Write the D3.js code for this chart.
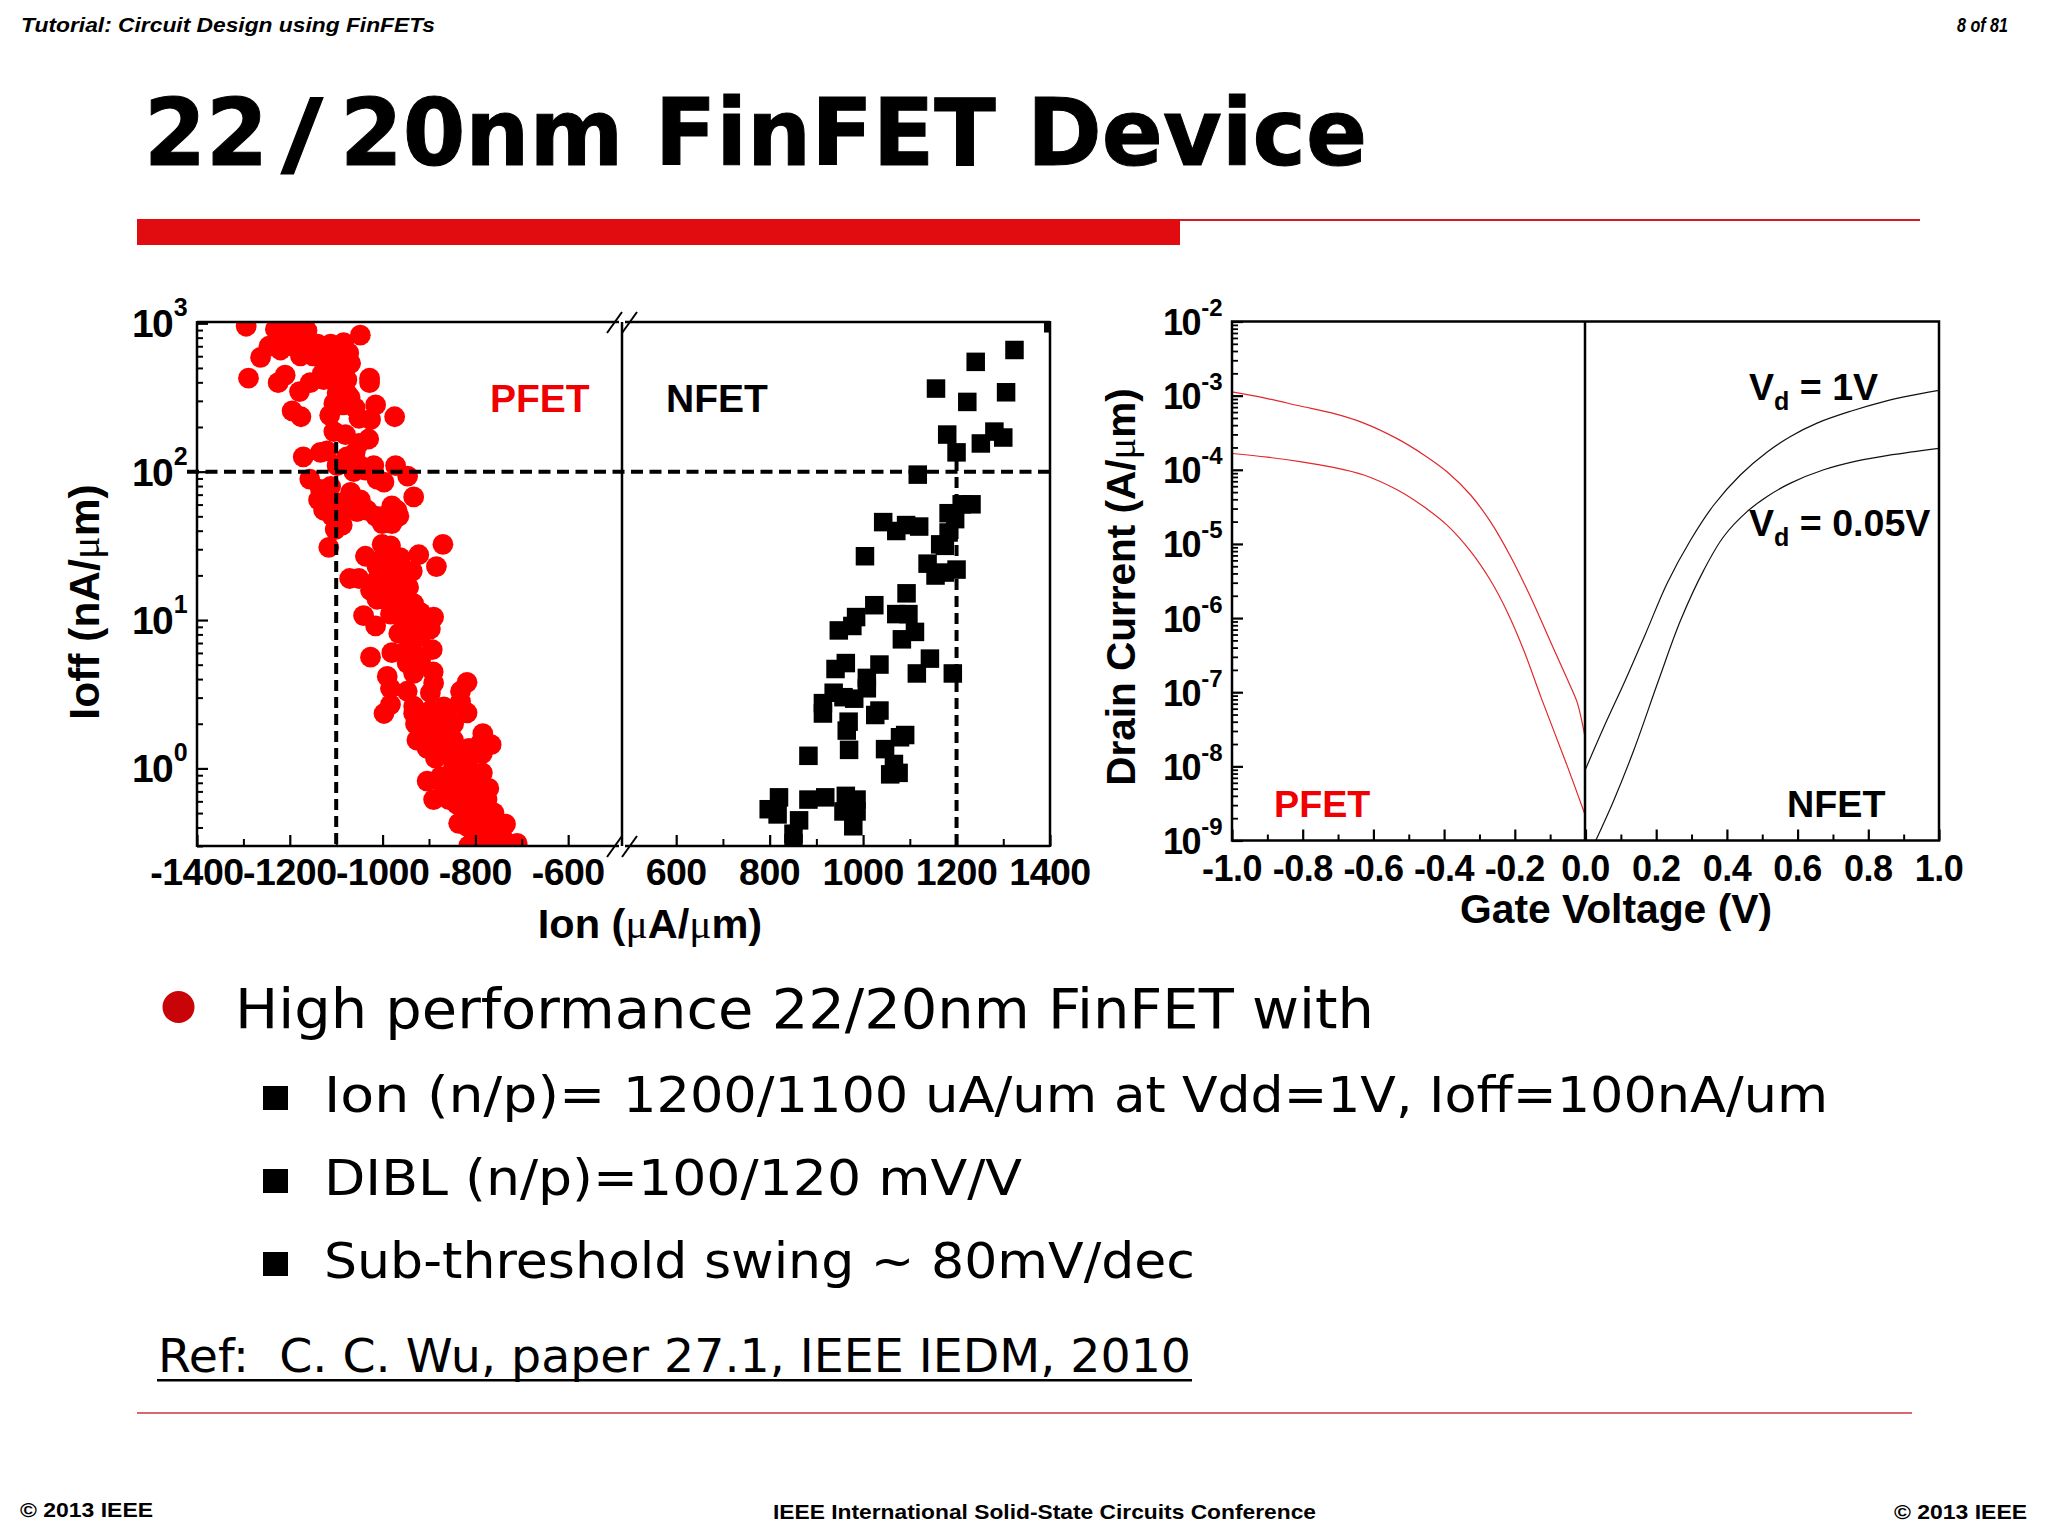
<!DOCTYPE html>
<html><head><meta charset="utf-8">
<style>html,body{margin:0;padding:0;background:#fff}svg{display:block}text{font-family:"Liberation Sans",Arial,sans-serif}</style>
<script src="https://cdn.jsdelivr.net/npm/d3@7/dist/d3.min.js"></script>
</head><body><svg id="s" width="2048" height="1536" xmlns="http://www.w3.org/2000/svg"></svg>
<script>
// ---------- data ----------
const pfetIon = [-1294,-1231,-1206,-1163,-1184,-1048,-1245,-1263,-1220,-1192,-1163,-1177,-1134,-1112,-1084,-1073,-1069,-1105,-1120,-1289,-1225,-1210,-1179,-1156,-1127,-1095,-1077,-1028,-1028,-1098,-1077,-1105,-1059,-1015,-1195,-1176,-1114,-1051,-1026,-974,-1105,-1080,-1030,-1051,-1059,-1171,-1134,-1120,-1098,-1019,-972,-1048,-1012,-997,-946,-1157,-1134,-1112,-933,-1138,-1116,-1069,-1048,-1055,-1091,-1109,-1087,-1102,-1015,-980,-965,-997,-980,-1116,-870,-884,-1001,-1037,-983,-962,-922,-1001,-990,-936,-1071,-1051,-1012,-976,-944,-1026,-990,-1012,-962,-947,-1041,-983,-933,-890,-1015,-965,-918,-897,-940,-893,-1026,-980,-933,-947,-891,-990,-933,-890,-983,-947,-818,-832,-897,-832,-997,-983,-818,-926,-897,-868,-929,-861,-784,-926,-897,-868,-766,-814,-785,-904,-854,-886,-785,-904,-875,-847,-811,-771,-890,-857,-825,-793,-775,-818,-771,-836,-803,-735,-767,-803,-767,-746,-710,-814,-782,-753,-847,-818,-803,-796,
  -1200,-1170,-1140,-1215,-1150,-1120,-1095,-1090,-1130,-1100,-1085,-1070,-1085,-1090,-1062,-1077,-1037,-1127,-1091,-1069,-1033,-1001,-969,-990,-976,-1012,-962,-990,-962,-997,-976,-933,-918,-954,-940,-918,-933,-954,-918,-933,-933,-904,-882,-861,-847,-875,-904,-882,-875,-847,-839,-811,-789,-818,-847,-847,-868,-818,-796,-782,-803,-840,-796,-818,-782,-760,-789,-739];
const pfetLogIoff = [2.98,2.96,2.95,2.95,2.96,2.92,2.845,2.77,2.82,2.845,2.845,2.78,2.80,2.86,2.87,2.80,2.73,2.755,2.71,2.63,2.60,2.65,2.54,2.60,2.62,2.64,2.62,2.63,2.60,2.53,2.53,2.46,2.43,2.45,2.41,2.37,2.38,2.36,2.35,2.37,2.27,2.25,2.22,2.19,2.13,2.10,2.13,2.14,2.04,2.04,2.04,2.04,1.95,1.93,1.97,1.95,1.88,1.90,1.83,1.81,1.83,1.86,1.81,1.73,1.79,1.70,1.64,1.61,1.70,1.77,1.70,1.70,1.65,1.49,1.51,1.36,1.51,1.43,1.50,1.42,1.44,1.41,1.34,1.33,1.28,1.28,1.27,1.27,1.22,1.20,1.20,1.14,1.16,1.08,1.03,1.04,1.04,1.02,0.96,0.91,0.96,0.94,0.87,0.80,0.75,0.78,0.78,0.71,0.65,0.62,0.64,0.575,0.54,0.52,0.58,0.52,0.51,0.45,0.37,0.43,0.375,0.37,0.39,0.415,0.30,0.33,0.235,0.19,0.19,0.21,0.16,0.135,0.10,0.135,0.146,0.07,-0.03,-0.085,-0.056,-0.08,-0.08,-0.135,-0.21,-0.21,-0.19,-0.17,-0.21,-0.26,-0.28,-0.37,-0.35,-0.375,-0.37,-0.44,-0.44,-0.415,-0.505,-0.52,-0.52,-0.49,0.056,0.01,-0.125,-0.28,
  2.9,2.9,2.86,2.88,2.78,2.8,2.82,2.72,2.66,2.6,2.55,2.5,2.45,2.5,2.0,2.1,2.01,1.74,1.70,1.77,1.74,1.65,1.74,1.45,1.41,1.36,1.32,1.27,1.23,1.14,1.11,1.11,1.05,0.98,0.94,0.89,0.71,0.78,0.73,0.42,0.37,0.37,0.35,0.39,0.30,0.26,0.26,0.15,0.10,0.19,0.10,0.08,0.17,-0.01,0.01,-0.15,-0.12,-0.12,-0.08,-0.19,-0.21,-0.24,-0.30,-0.39,-0.39,-0.30,-0.48,-0.48];
const nfetIon = [1407,1324,1241,1156,1306,1223,1180,1200,1252,1281,1300,1117,1232,1211,1183,1197,1043,1071,1092,1120,1183,1165,1175,1004,1138,1155,1175,1200,1093,1024,985,1071,1097,1111,1083,977,948,1143,1115,1192,963,941,1035,1008,1008,937,914,914,981,958,1035,1026,969,965,970,883,1090,1079,1047,1066,1076,1058,820,798,817,883,919,963,986,958,986,979,863,851,851];
const nfetLogIoff = [3.0,2.82,2.74,2.56,2.535,2.47,2.25,2.13,2.19,2.27,2.23,1.98,1.78,1.78,1.72,1.68,1.66,1.60,1.64,1.63,1.59,1.51,1.50,1.43,1.38,1.30,1.32,1.34,1.18,1.10,1.02,1.04,1.04,0.92,0.87,0.96,0.93,0.74,0.64,0.64,0.71,0.67,0.70,0.61,0.54,0.51,0.44,0.37,0.47,0.48,0.39,0.36,0.315,0.255,0.125,0.085,0.225,0.21,0.13,0.03,-0.03,-0.04,-0.195,-0.275,-0.31,-0.21,-0.195,-0.185,-0.21,-0.29,-0.29,-0.39,-0.35,-0.44,-0.505];

const pHighVg  = [-1.0,-0.90,-0.807,-0.721,-0.627,-0.533,-0.457,-0.391,-0.325,-0.269,-0.212,-0.156,-0.099,-0.052,-0.024,-0.009,0];
const pHighLog = [-2.95,-3.04,-3.14,-3.23,-3.37,-3.58,-3.80,-4.03,-4.34,-4.70,-5.17,-5.71,-6.32,-6.82,-7.13,-7.42,-7.64];
const pLowVg   = [-1.0,-0.90,-0.807,-0.721,-0.627,-0.533,-0.457,-0.391,-0.325,-0.269,-0.222,-0.175,-0.125,-0.052,0];
const pLowLog  = [-3.78,-3.83,-3.89,-3.96,-4.07,-4.27,-4.50,-4.75,-5.10,-5.49,-5.91,-6.43,-7.08,-7.99,-8.67];
const nHighVg  = [0,0.051,0.113,0.170,0.231,0.297,0.363,0.438,0.514,0.58,0.655,0.75,0.844,0.919,1.0];
const nHighLog = [-8.04,-7.48,-6.835,-6.21,-5.53,-4.95,-4.475,-4.07,-3.76,-3.55,-3.37,-3.21,-3.08,-3.00,-2.93];
const nLowVg   = [0.029,0.079,0.136,0.207,0.269,0.335,0.391,0.457,0.514,0.58,0.674,0.769,0.863,1.0];
const nLowLog  = [-9.0,-8.47,-7.79,-6.835,-6.03,-5.35,-4.90,-4.565,-4.36,-4.18,-4.00,-3.88,-3.80,-3.71];

const leftYTicks = [1,10,100,1000];
const leftYExp = ["0","1","2","3"];
const pXTicks = [-1400,-1200,-1000,-800,-600];
const pXMinor = [-1300,-1100,-900,-700];
const nXTicks = [600,800,1000,1200,1400];
const nXMinor = [700,900,1100,1300];
const rightYExp = [-2,-3,-4,-5,-6,-7,-8,-9];
const vgTicks = [-1,-0.8,-0.6,-0.4,-0.2,0,0.2,0.4,0.6,0.8,1];
const vgMinor = [-0.9,-0.7,-0.5,-0.3,-0.1,0.1,0.3,0.5,0.7,0.9];
const ionSpecP = -1100, ionSpecN = 1200, ioffSpec = 100;
const ionLine = ["Ion (n/p)= ","1200/1100 ","uA/um ","at ","Vdd=1V, ","Ioff=100nA/um"];
const ionLineX = [324,623,925,1114,1182,1429];
const ionLineW = [299,302,189,68,247,399];
const titleParts = ["22","/","20nm FinFET Device"];
const titleX = [144,281,340];
const titleW = [124,42,1027];

// ---------- layout ----------
const svg = d3.select("#s");
const L = {left:197, brk:622, right:1050, top:322, bottom:846};
const R = {left:1232, zero:1585, right:1939, top:321.5, bottom:840.5};
const xP = d3.scaleLinear().domain([-1400,-484]).range([L.left,L.brk]);
const xN = d3.scaleLinear().domain([484,1400]).range([L.brk,L.right]);
const yL = d3.scaleLog().domain([0.3,1020]).range([L.bottom,L.top]);
const xV = d3.scaleLinear().domain([-1,1]).range([R.left,R.right]);
const yR = d3.scaleLog().domain([1e-9,1e-2]).range([R.bottom,R.top]);

function txt(x,y,s,fs,o={}){
  const t = svg.append("text").attr("x",x).attr("y",y).attr("font-size",fs)
    .attr("font-weight",o.w||"bold").attr("fill",o.c||"#000").text(s);
  if(o.anchor) t.attr("text-anchor",o.anchor);
  if(o.fam) t.style("font-family",o.fam);
  if(o.st) t.attr("font-style",o.st);
  if(o.len) t.attr("textLength",o.len).attr("lengthAdjust","spacingAndGlyphs");
  if(o.ls!==undefined) t.attr("letter-spacing",o.ls);
  if(o.pre) t.attr("xml:space","preserve").style("white-space","pre");
  return t;
}
function segText(parts,xs,ws,y,fs,weight){
  const t = svg.append("text").attr("y",y).attr("font-size",fs).attr("font-weight",weight).style("font-family",BODY).style("white-space","pre");
  parts.forEach((p,i)=>t.append("tspan").attr("x",xs[i]).attr("textLength",ws[i]).attr("lengthAdjust","spacingAndGlyphs").text(p));
  return t;
}
const BODY = '"DejaVu Sans",sans-serif';

// ---------- slide furniture ----------
txt(21,32,"Tutorial: Circuit Design using FinFETs",21,{st:"italic",len:414});
txt(1957,32,"8 of 81",21,{st:"italic",len:51});
segText(titleParts,titleX,titleW,165,92,"bold").attr("stroke","#000").attr("stroke-width",1);
svg.append("rect").attr("x",137).attr("y",219).attr("width",1043).attr("height",26).attr("fill","#e10c0f");
svg.append("rect").attr("x",1180).attr("y",219).attr("width",740).attr("height",2).attr("fill","#d81a1e");

// bullets
svg.append("circle").attr("cx",178.5).attr("cy",1007).attr("r",16).attr("fill","#c90408");
txt(235,1028,"High performance 22/20nm FinFET with",56,{fam:BODY,w:"normal",len:1139});
const bulletBase=[1112,1195,1278];
bulletBase.forEach(b=>svg.append("rect").attr("x",263).attr("y",b-26).attr("width",25).attr("height",24).attr("fill","#000"));
segText(ionLine,ionLineX,ionLineW,bulletBase[0],50,"normal");
txt(324,bulletBase[1],"DIBL (n/p)=100/120 mV/V",50,{fam:BODY,w:"normal",len:698});
txt(324,bulletBase[2],"Sub-threshold swing ~ 80mV/dec",50,{fam:BODY,w:"normal",len:871});
txt(158,1372,"Ref:  C. C. Wu, paper 27.1, IEEE IEDM, 2010",46,{fam:BODY,w:"normal",len:1033,pre:true});
svg.append("rect").attr("x",157).attr("y",1379).attr("width",1035).attr("height",2.5).attr("fill","#000");
svg.append("rect").attr("x",137).attr("y",1412).attr("width",1775).attr("height",2).attr("fill","#d9686e");
txt(20,1517,"© 2013 IEEE",21,{len:133});
txt(773,1519,"IEEE International Solid-State Circuits Conference",21,{len:543});
txt(1894,1519,"© 2013 IEEE",21,{len:133});

// ---------- clip regions ----------
const defs = svg.append("defs");
defs.append("clipPath").attr("id","clipL").append("rect").attr("x",L.left).attr("y",L.top).attr("width",L.right-L.left).attr("height",L.bottom-L.top);
defs.append("clipPath").attr("id","clipR").append("rect").attr("x",R.left).attr("y",R.top).attr("width",R.right-R.left).attr("height",R.bottom-R.top);

// ---------- left panel marks ----------
const gL = svg.append("g").attr("clip-path","url(#clipL)");
gL.selectAll("circle").data(pfetIon).join("circle")
  .attr("cx",d=>xP(d)).attr("cy",(d,i)=>yL(Math.pow(10,pfetLogIoff[i]))).attr("r",10.4).attr("fill","#ff0000");
const sq=18.5;
gL.selectAll("rect").data(nfetIon).join("rect")
  .attr("x",d=>xN(d)-sq/2).attr("y",(d,i)=>yL(Math.pow(10,nfetLogIoff[i]))-sq/2).attr("width",sq).attr("height",sq).attr("fill","#000");

// spec dashed guides
svg.append("line").attr("x1",187).attr("x2",L.right).attr("y1",yL(ioffSpec)).attr("y2",yL(ioffSpec))
  .attr("stroke","#000").attr("stroke-width",4).attr("stroke-dasharray","12 6.5");
svg.append("line").attr("x1",xP(ionSpecP)).attr("x2",xP(ionSpecP)).attr("y1",442).attr("y2",L.bottom)
  .attr("stroke","#000").attr("stroke-width",4).attr("stroke-dasharray","11 6");
svg.append("line").attr("x1",xN(ionSpecN)).attr("x2",xN(ionSpecN)).attr("y1",460).attr("y2",L.bottom)
  .attr("stroke","#000").attr("stroke-width",4).attr("stroke-dasharray","11 6");

// ---------- axes ----------
function ax(axis,tx,ty,size,sw){
  const g = svg.append("g").attr("transform",`translate(${tx},${ty})`)
    .call(axis.tickSizeOuter(0).tickSizeInner(size).tickPadding(0).tickFormat(""));
  g.select(".domain").remove();
  g.selectAll("line").attr("stroke","#000").attr("stroke-width",sw);
  g.selectAll("text").remove();
  return g;
}
const minorsOf = (lo,hi)=>{const r=[];for(let e=lo;e<=hi;e++)for(let m=2;m<=9;m++)r.push(m*Math.pow(10,e));return r;};

// left panel ticks
ax(d3.axisLeft(yL).tickValues(leftYTicks),L.left,0,-11,2.2);
ax(d3.axisLeft(yL).tickValues(minorsOf(-1,2).filter(v=>v>=0.3&&v<=1000)),L.left,0,-6,2);
ax(d3.axisBottom(xP).tickValues(pXTicks),0,L.bottom,-11,2.2);
ax(d3.axisBottom(xP).tickValues(pXMinor),0,L.bottom,-7,2);
ax(d3.axisBottom(xN).tickValues(nXTicks),0,L.bottom,-11,2.2);
ax(d3.axisBottom(xN).tickValues(nXMinor),0,L.bottom,-7,2);

// frames
const frame = (x1,y1,x2,y2,sw)=>svg.append("line").attr("x1",x1).attr("y1",y1).attr("x2",x2).attr("y2",y2).attr("stroke","#000").attr("stroke-width",sw);
frame(L.left,L.top,L.brk-3,L.top,2.5);
frame(L.brk+3,L.top,L.right,L.top,2.5);
frame(L.left,L.bottom,L.brk-3,L.bottom,2.5);
frame(L.brk+3,L.bottom,L.right,L.bottom,2.5);
frame(L.left,L.top-1,L.left,L.bottom+1,2.5);
frame(L.right,L.top-1,L.right,L.bottom+1,2.5);
frame(L.brk,L.top,L.brk,L.bottom,2.5);
[[L.top+11,L.top-10],[L.bottom+11,L.bottom-10]].forEach(([a,b])=>{
  frame(L.brk-15,a,L.brk,b,2); frame(L.brk,a,L.brk+15,b,2);
});

// left tick labels
function powerLabel(x,y,exp,fs,supFs,rise){
  const t = svg.append("text").attr("x",x).attr("y",y).attr("font-size",fs).attr("font-weight","bold");
  t.append("tspan").attr("letter-spacing",-1.6).text("10");
  t.append("tspan").attr("font-size",supFs).attr("dy",-rise).attr("dx",1.5).text(exp);
}
leftYTicks.forEach((v,i)=>powerLabel(132,yL(v)+14,leftYExp[i],39,25,21));
const lab=(x,y,s,fs)=>txt(x,y,s,fs,{anchor:"middle",ls:-0.5});
pXTicks.forEach(v=>lab(xP(v),885,String(v),37.5));
nXTicks.forEach(v=>lab(xN(v),885,String(v),37.5));
txt(490,412,"PFET",39,{c:"#f00000"});
txt(666,412,"NFET",39);

// unit-labels with serif mu
function unitLabel(t,parts){ parts.forEach(p=>{const s=t.append("tspan").text(p); if(p==="μ") s.style("font-family",'"Liberation Serif",serif').attr("font-weight","normal");}); }
const ionT = svg.append("text").attr("x",650).attr("y",938).attr("text-anchor","middle").attr("font-size",41.5).attr("font-weight","bold");
unitLabel(ionT,["Ion (","μ","A/","μ","m)"]);
const ioffT = svg.append("text").attr("transform","translate(99,602) rotate(-90)").attr("text-anchor","middle").attr("font-size",42.5).attr("font-weight","bold");
unitLabel(ioffT,["Ioff (nA/","μ","m)"]);

// ---------- right panel ----------
const line = d3.line().x(d=>xV(d[0])).y(d=>yR(Math.pow(10,d[1]))).curve(d3.curveCatmullRom);
const gR = svg.append("g").attr("clip-path","url(#clipR)");
[[pHighVg,pHighLog,"#e0282c"],[pLowVg,pLowLog,"#e0282c"],[nHighVg,nHighLog,"#111"],[nLowVg,nLowLog,"#111"]].forEach(([a,b,c])=>{
  gR.append("path").attr("d",line(a.map((v,i)=>[v,b[i]]))).attr("fill","none").attr("stroke",c).attr("stroke-width",1.2);
});
const decades = rightYExp.map(e=>Math.pow(10,e));
ax(d3.axisLeft(yR).tickValues(decades),R.left,0,-11,2.2);
ax(d3.axisLeft(yR).tickValues(minorsOf(-9,-3)),R.left,0,-6,1.8);
ax(d3.axisBottom(xV).tickValues(vgTicks),0,R.bottom,-11,2.2);
ax(d3.axisBottom(xV).tickValues(vgMinor),0,R.bottom,-6,2);
svg.append("rect").attr("x",R.left).attr("y",R.top).attr("width",R.right-R.left).attr("height",R.bottom-R.top).attr("fill","none").attr("stroke","#000").attr("stroke-width",2.5);
frame(R.zero,R.top,R.zero,R.bottom,2.5);
rightYExp.forEach(e=>powerLabel(1163,yR(Math.pow(10,e))+13.5,String(e),36,24,19));
vgTicks.forEach(v=>lab(xV(v),881,v.toFixed(1),36));
txt(1274,817,"PFET",37.7,{c:"#f00000"});
txt(1787,817,"NFET",37.7);
function vd(x,y,rest){
  const t = svg.append("text").attr("x",x).attr("y",y).attr("font-size",37.6).attr("font-weight","bold");
  t.append("tspan").text("V");
  t.append("tspan").attr("font-size",25).attr("dy",10).text("d");
  t.append("tspan").attr("dy",-10).text(rest);
}
vd(1749,399.5," = 1V");
vd(1749,536," = 0.05V");
const drainT = svg.append("text").attr("transform","translate(1135,587) rotate(-90)").attr("text-anchor","middle").attr("font-size",40.5).attr("font-weight","bold");
unitLabel(drainT,["Drain Current (A/","μ","m)"]);
txt(1616,923,"Gate Voltage (V)",40.8,{anchor:"middle"});
</script></body></html>
